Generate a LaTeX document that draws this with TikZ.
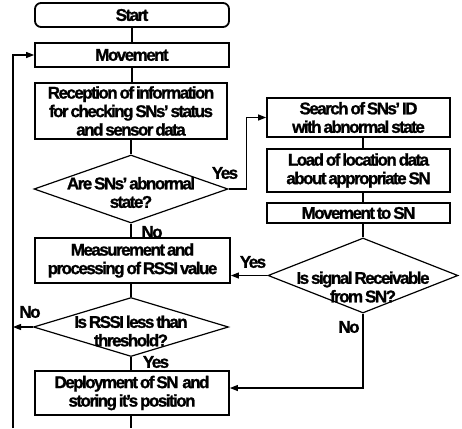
\documentclass[tikz,border=0pt]{standalone}
\usepackage{fontspec}
\setmainfont{Liberation Sans}[LetterSpace=-9,WordSpace=0.6,BoldFeatures={FakeBold=1.2}]
\usetikzlibrary{shapes.geometric,arrows.meta}
\begin{document}
\begin{tikzpicture}[x=1pt,y=-1pt,
 box/.style={draw,line width=1.8pt,inner sep=0pt,align=center},
 dia/.style={draw,diamond,line width=1.2pt,inner sep=0pt},
 txt/.style={align=center,inner sep=0pt},
 lbl/.style={inner sep=0pt},
 conn/.style={line width=1.1pt},
 arr/.style={conn,-{Triangle[length=8pt,width=6pt]}},
 font=\fontsize{17}{18.5}\selectfont\bfseries]
\useasboundingbox (0,0) rectangle (462,428);
\node[box,rounded corners=6pt,minimum width=194pt,minimum height=24pt] (start) at (132,15) {Start};
\node[box,minimum width=194pt,minimum height=24pt] (mov) at (132,55) {Movement};
\node[box,minimum width=192pt,minimum height=56pt] (rec) at (131,111) {Reception of information\\for checking SNs’ status\\and sensor data};
\node[dia,minimum width=194pt,minimum height=68pt] (d1) at (131,189) {};
\node[txt] (d1t) at (131,192.5) {Are SNs’ abnormal\\state?};
\node[box,minimum width=195pt,minimum height=45pt] (meas) at (132.5,260.5) {Measurement and\\processing of RSSI value};
\node[dia,minimum width=195pt,minimum height=59pt] (d3) at (131,327) {};
\node[txt] (d3t) at (131,331) {Is RSSI less than\\threshold?};
\node[box,minimum width=194pt,minimum height=44pt] (dep) at (132,393) {Deployment of SN\ \ and\\storing it’s position};
\node[box,minimum width=183pt,minimum height=39pt] (srch) at (358.5,117.5) {Search of SNs’ ID\\with abnormal state};
\node[box,minimum width=183pt,minimum height=43pt] (load) at (358.5,170.5) {Load of location data\\about appropriate SN};
\node[box,minimum width=183pt,minimum height=20pt] (msn) at (358.5,213) {Movement to SN};
\node[dia,minimum width=190pt,minimum height=75pt] (d2) at (363,275.5) {};
\node[txt] (d2t) at (363,287) {Is signal Receivable\\from SN?};
% connectors
\draw[conn] (start.south -| mov.center) -- (mov.north);
\draw[conn] (mov.south) -- (mov.south |- rec.north);
\draw[conn] (rec.south -| d1.north) -- (d1.north);
\draw[conn] (d1.south) -- (d1.south |- meas.north);
\draw[conn] (meas.south -| d3.north) -- (d3.north);
\draw[conn] (d3.south) -- (d3.south |- dep.north);
\draw[arr] (d1.east) -- ++(18,0) |- (srch.west);
\draw[conn] (srch.south -| d2.north) -- (load.north -| d2.north);
\draw[conn] (load.south -| d2.north) -- (msn.north -| d2.north);
\draw[conn] (msn.south -| d2.north) -- (d2.north);
\draw[arr] (d2.west) -- (d2.west -| meas.east);
\coordinate (c2) at (363,388);
\draw[arr] (d2.south) -- (c2) -- (c2 -| dep.east);
\coordinate (loopb) at (13,428);
\draw[arr] (d3.west) -- (d3.west -| loopb);
\draw[arr] (loopb) |- (mov.west);
\coordinate (depb) at (132,428);
\draw[conn] (dep.south -| d3.south) -- (depb -| d3.south);
% labels
\node[lbl] (y1) at (225,173) {Yes};
\node[lbl] (n1) at (152,232) {No};
\node[lbl] (y2) at (253,262) {Yes};
\node[lbl] (n2) at (349,327) {No};
\node[lbl] (n3) at (30,312) {No};
\node[lbl] (y3) at (156,362) {Yes};
\end{tikzpicture}
\end{document}
